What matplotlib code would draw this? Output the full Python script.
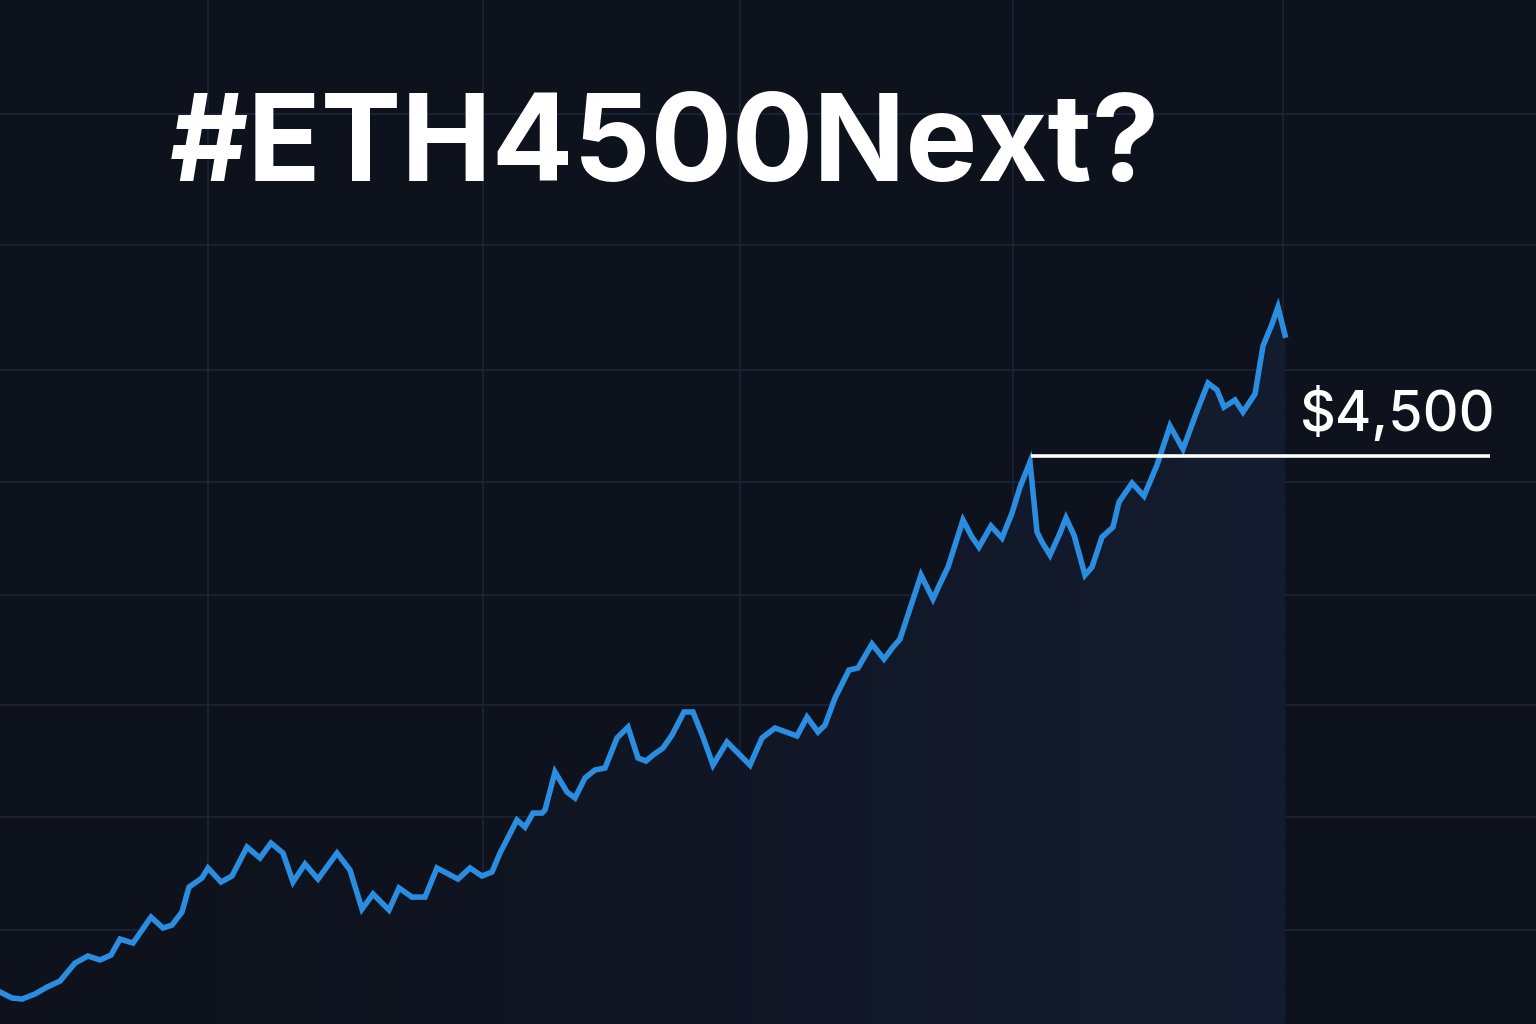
import numpy as np
import matplotlib.pyplot as plt

# price series (x = time step, y = price in $)
t = [0, 12, 22, 35, 47, 60, 75, 88, 100, 111, 120, 133, 151, 163, 172, 182,
     189, 202, 208, 221, 232, 247, 260, 271, 283, 293, 305, 318, 337, 350,
     362, 373, 389, 399, 412, 425, 437, 458, 470, 482, 492, 500, 517, 525,
     533, 542, 545, 555, 567, 575, 585, 595, 605, 617, 628, 638, 646, 653,
     663, 672, 684, 693, 703, 713, 727, 740, 750, 762, 775, 797, 807, 818,
     825, 835, 849, 858, 872, 884, 893, 900, 921, 933, 938, 948, 963, 972,
     979, 991, 1002, 1012, 1020, 1030, 1037, 1042, 1050, 1060, 1066, 1074,
     1085, 1092, 1102, 1113, 1119, 1132, 1144, 1157, 1170, 1183, 1197, 1208,
     1217, 1224, 1235, 1243, 1255, 1263, 1272, 1278, 1285]
price = [1552, 1519, 1513, 1541, 1579, 1612, 1711, 1750, 1728, 1755, 1843,
         1821, 1964, 1904, 1920, 1992, 2129, 2179, 2234, 2157, 2190, 2349,
         2289, 2371, 2316, 2157, 2256, 2173, 2316, 2223, 2008, 2091, 2003,
         2124, 2074, 2074, 2234, 2173, 2234, 2190, 2212, 2316, 2498, 2459,
         2536, 2536, 2553, 2762, 2652, 2619, 2729, 2773, 2784, 2949, 3009,
         2839, 2822, 2855, 2894, 2965, 3092, 3092, 2954, 2800, 2927, 2855,
         2800, 2949, 3004, 2960, 3064, 2982, 3020, 3169, 3323, 3334, 3466,
         3383, 3449, 3493, 3845, 3713, 3774, 3889, 4148, 4054, 3999, 4115,
         4049, 4186, 4329, 4467, 4082, 4027, 3955, 4076, 4159, 4065, 3845,
         3889, 4054, 4109, 4247, 4351, 4280, 4450, 4665, 4538, 4747, 4901,
         4863, 4769, 4808, 4742, 4841, 5105, 5226, 5319, 5165]

level = 4500
level_label = "$4,500"
level_start = 1031
level_end = 1490
title = "#ETH4500Next?"

grid_x = [208, 483, 740, 1013, 1283]
grid_y = [1893, 2515, 3131, 3736, 4357, 4973, 5661, 6381]

bg = '#0e121c'

fig = plt.figure(figsize=(15.36, 10.24), dpi=100)
fig.patch.set_facecolor(bg)
ax = fig.add_axes([0, 0, 1, 1])
ax.set_facecolor(bg)
ax.set_xlim(0, 1536)
ax.set_ylim(1376, 7008)

for gx in grid_x:
    ax.axvline(gx, color='#1b2437', lw=1.3, zorder=1)
for gy in grid_y:
    ax.axhline(gy, color='#1b2437', lw=1.3, zorder=1)

# soft fill under the line, fading in from the left
poly = ax.fill_between(t, price, 1376, color='none', lw=0)
grad = np.linspace(0, 1, 512).reshape(1, -1) ** 1.3
cmap = plt.matplotlib.colors.LinearSegmentedColormap.from_list(
    'f', [bg, '#141c2f'])
im = ax.imshow(grad, extent=[0, 1285, 1376, 7008], aspect='auto',
               cmap=cmap, zorder=2, origin='lower', interpolation='bilinear')
im.set_clip_path(poly.get_paths()[0], transform=ax.transData)

ax.plot(t, price, color='#2a8de0', lw=4.0, solid_joinstyle='miter',
        zorder=4)

ax.hlines(level, level_start, level_end, color='white', lw=2.6, zorder=5)
ax.text(1496, 4640, level_label, color='white', fontsize=40,
        family='Inter', weight='medium', ha='right', va='baseline', zorder=6)

fig.text(170 / 1536, 1 - 181 / 1024, title, color='white', fontsize=87,
         family='Inter', weight='bold', ha='left', va='baseline')

ax.axis('off')
fig.savefig('out.png', dpi=100, facecolor=bg)
